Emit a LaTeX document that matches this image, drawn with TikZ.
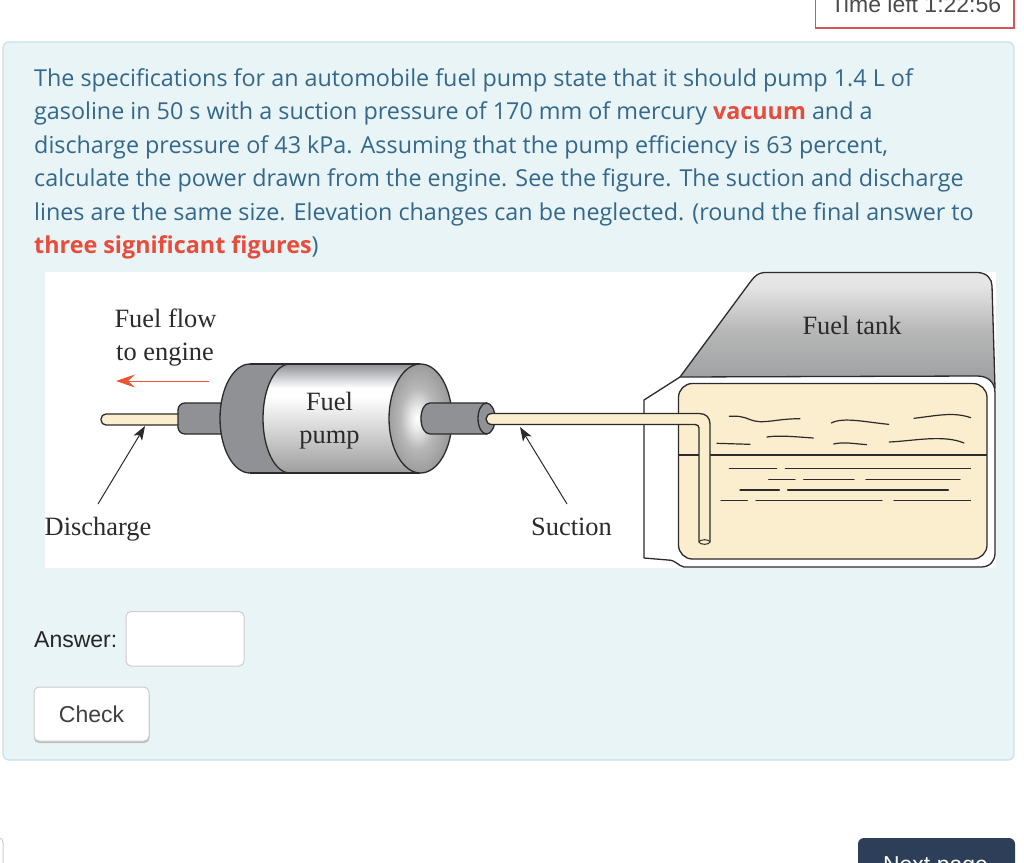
\documentclass[tikz,border=0pt]{standalone}
\usepackage{fontspec}
\setmainfont{Open Sans}
\newfontfamily\figfont{Liberation Serif}
\newfontfamily\uifont{Liberation Sans}
\usetikzlibrary{arrows.meta}
\definecolor{panelfill}{HTML}{E9F4F6}
\definecolor{panelline}{HTML}{C8E3EA}
\definecolor{bodytext}{HTML}{33688C}
\definecolor{hilite}{HTML}{E74C3C}
\definecolor{timered}{HTML}{D2555A}
\definecolor{navy}{HTML}{2D3F58}
\definecolor{cream}{HTML}{FBEECE}
\definecolor{darkgray}{HTML}{8F9195}
\definecolor{ink}{HTML}{2B2B2B}
\pgfdeclareverticalshading{pumpbody}{100bp}{color(0bp)=(black!38);color(25bp)=(black!38);color(60bp)=(white);color(64bp)=(white);color(75bp)=(darkgray);color(100bp)=(darkgray)}
\pgfdeclareverticalshading{tanktop}{100bp}{color(0bp)=(darkgray);color(25bp)=(darkgray!90);color(50bp)=(black!28);color(70bp)=(black!10);color(100bp)=(black!9)}
\pgfdeclareradialshading{pumpcap}{\pgfpoint{-3bp}{0bp}}{color(0bp)=(white);color(5bp)=(black!8);color(14bp)=(black!28);color(26bp)=(black!40);color(50bp)=(darkgray)}
\tikzset{
  x=1pt,y=-1pt,
  para/.style={anchor=base west,inner sep=0pt,text=bodytext,font=\fontsize{23.33}{28}\selectfont},
  figtext/.style={anchor=base,inner sep=0pt,text=ink,font=\figfont\fontsize{26.4}{30}\selectfont},
  uitext/.style={anchor=base,inner sep=0pt,font=\uifont\fontsize{23}{28}\selectfont},
  outline/.style={draw=ink,line width=1.3pt,line join=round},
  wave/.style={draw=ink,line width=1.2pt,line cap=round},
  leader/.style={draw=ink,line width=1pt,-{Stealth[length=14pt,width=10pt,inset=3.5pt]}},
  redarrow/.style={draw=hilite!85!orange,line width=1pt,-{Stealth[length=19pt,width=13pt,inset=7pt]}},
}
\begin{document}
\begin{tikzpicture}
\clip (0,0) rectangle (1024,862);
\fill[white] (0,0) rectangle (1024,862);
% page furniture
\draw[draw=timered,line width=1.6pt,fill=white] (815.5,-10) rectangle (1014,28);
\node[uitext,text=ink!85] (timeleft) at (916,12.5) {Time left 1:22:56};
\draw[draw=panelline,line width=1.3pt,fill=panelfill,rounded corners=6pt] (3,42) rectangle (1014,760);
\node[para] (l1) at (34,86) {The specifications for an automobile fuel pump state that it should pump 1.4 L of};
\node[para] (l2) at (34,119.5) {gasoline in 50 s with a suction pressure of 170 mm of mercury {\bfseries\color{hilite}vacuum} and a};
\node[para] (l3) at (34,153) {discharge pressure of 43 kPa. Assuming that the pump efficiency is 63 percent,};
\node[para] (l4) at (34,186.5) {calculate the power drawn from the engine. See the figure. The suction and discharge};
\node[para] (l5) at (34,220) {lines are the same size. Elevation changes can be neglected. (round the final answer to};
\node[para] (l6) at (34,253) {{\bfseries\color{hilite}three significant figures})};
% figure background
\fill[white] (45,272) rectangle (996,568);
% discharge pipe and stub
\draw[outline,fill=cream,rounded corners=5pt] (185,414) -- (101,414) -- (101,425) -- (185,425) -- cycle;
\draw[outline,fill=darkgray,rounded corners=7pt] (230,403) -- (178,403) -- (178,434) -- (230,434);
% pump
\draw[outline,fill=darkgray] (250,364) .. controls (233.4,364) and (220,388.4) .. (220,418.5) .. controls (220,448.6) and (233.4,473) .. (250,473) -- (420,473) -- (420,364) -- cycle;
\shade[shading=pumpbody] (290,364) .. controls (275,364) and (263,388.4) .. (263,418.5) .. controls (263,448.6) and (275,473) .. (290,473) -- (420,473) -- (420,364) -- cycle;
\draw[outline] (290,364) .. controls (275,364) and (263,388.4) .. (263,418.5) .. controls (263,448.6) and (275,473) .. (290,473);
\draw[outline] (250,364) -- (420,364) (250,473) -- (420,473);
\draw[outline,shading=pumpcap] (420.5,418.5) ellipse [x radius=31.5pt,y radius=54.5pt];
% suction stub
\draw[outline,fill=darkgray] (487,403) -- (430,403) .. controls (424.5,403) and (421,410) .. (421,418.5) .. controls (421,427) and (424.5,434) .. (430,434) -- (487,434) -- cycle;
\draw[outline,fill=darkgray] (486.5,418.5) ellipse [x radius=8.5pt,y radius=15.5pt];
% tank shell
\shade[shading=tanktop,draw=ink,line width=1.3pt,line join=round] (680,377) -- (751,281) .. controls (755,276) and (758,273) .. (764,272.5) -- (978,272.5) .. controls (987,273) and (992,279) .. (992,286) -- (995,388) -- (680,388) -- cycle;
\draw[outline,fill=white] (644,558) -- (644,400) -- (680,377) -- (977,376) .. controls (988,376) and (995,382) .. (995,393) -- (995,553) .. controls (995,561) and (990,567) .. (981,567) -- (684,567) .. controls (678,566) and (676,560) .. (668,560) -- cycle;
\draw[outline,fill=cream,rounded corners=14pt] (678.5,383.5) rectangle (987,559);
% fuel surface and waves, in 3x crop coordinates
\begin{scope}[shift={(620,265)},x=0.3333pt,y=-0.3333pt]
  \draw[outline] (175,570) -- (1102,570);
  \draw[wave] (328,454) .. controls (385,450) and (385,472) .. (430,470) .. controls (470,468) and (480,462) .. (540,461);
  \draw[wave] (634,474) .. controls (670,455) and (740,472) .. (806,478);
  \draw[wave] (882,460) .. controls (950,452) and (1000,440) .. (1052,458);
  \draw[wave] (291,535) -- (390,538);
  \draw[wave] (441,516) .. controls (480,510) and (530,516) .. (580,519);
  \draw[wave] (641,537) .. controls (670,530) and (700,536) .. (740,539);
  \draw[wave] (808,531) .. controls (880,528) and (970,508) .. (1032,534);
  \foreach \ya/\xa/\xb in {611/328/470,611/496/1052,643/446/525,643/551/702,643/738/1020,675/360/478,675/503/985,706/303/382,706/408/786,706/822/1052}
    \draw[wave] (\xa,\ya) -- (\xb,\ya);
\end{scope}
% suction pipe
\draw[outline,fill=cream] (492,413.5) -- (699,413.5) .. controls (706,413.5) and (710,417.5) .. (710,424) -- (710,542) -- (699,542) -- (699,428) .. controls (699,426) and (697.5,424.5) .. (695,424.5) -- (492,424.5) .. controls (488.5,424.5) and (486,422) .. (486,419) .. controls (486,416) and (488.5,413.5) .. (492,413.5) -- cycle;
\draw[outline,fill=cream,line width=1pt] (704.5,542) ellipse [x radius=5.5pt,y radius=2.3pt];
% figure labels
\node[figtext] (flow1) at (165.5,327) {Fuel flow};
\node[figtext] (flow2) at (165,360) {to engine};
\node[figtext] (pump1) at (329.5,410) {Fuel};
\node[figtext] (pump2) at (329.5,443) {pump};
\node[figtext] (tanklabel) at (852,334) {Fuel tank};
\node[figtext] (discharge) at (98,535) {Discharge};
\node[figtext] (suction) at (571.5,535) {Suction};
% arrows
\coordinate (redstart) at (209,381);
\coordinate (redend) at (116,381);
\coordinate (dischargefrom) at (98,504);
\coordinate (dischargepipe) at (145,426);
\coordinate (suctionfrom) at (567,504);
\coordinate (suctionpipe) at (520,427);
\draw[redarrow] (redstart) -- (redend);
\draw[leader] (dischargefrom) -- (dischargepipe);
\draw[leader] (suctionfrom) -- (suctionpipe);
% answer controls
\node[uitext,anchor=base west,text=black!85] (answer) at (34,647.5) {Answer:};
\draw[draw=black!20,line width=1pt,fill=white,rounded corners=5pt] (126,611.5) rectangle (244,666);
\fill[black!25,rounded corners=5pt] (34,690) rectangle (149.5,743);
\node[draw=black!20,line width=1pt,fill=white,rounded corners=5pt,minimum width=115pt,minimum height=54pt,inner sep=0pt,text=black!75,font=\uifont\fontsize{23}{28}\selectfont] (check) at (91.5,714) {Check};
% bottom edge
\draw[draw=black!20,line width=1pt,rounded corners=4pt] (-6,838) -- (3,838) -- (3,880);
\fill[navy,rounded corners=6pt] (858,838) rectangle (1015,890);
\node[uitext,text=white] (nextpage) at (935.5,872.5) {Next page};
\end{tikzpicture}
\end{document}
